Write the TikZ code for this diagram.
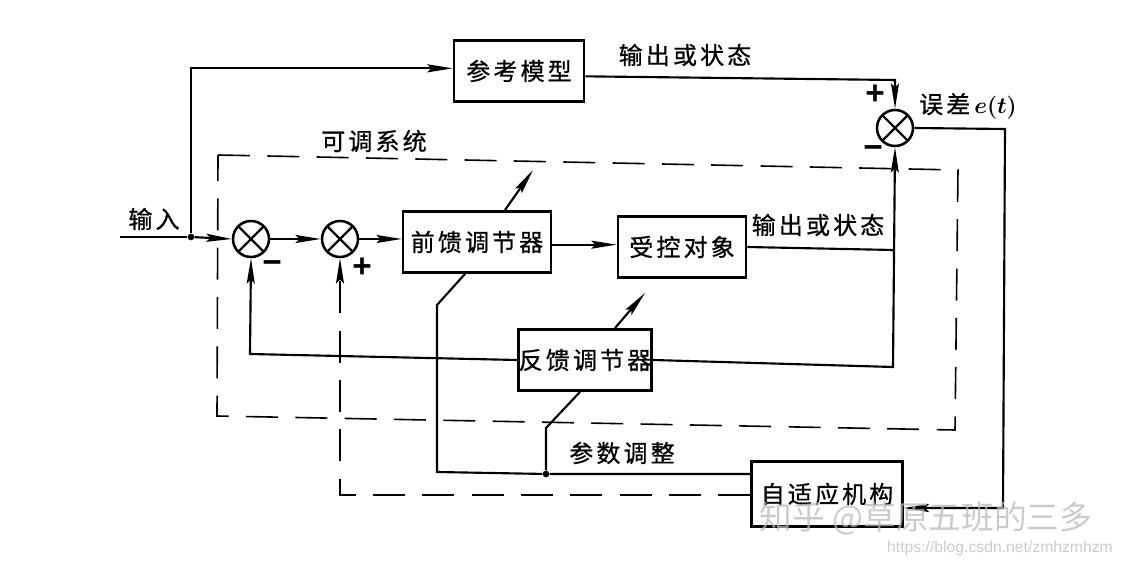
\documentclass[tikz,border=0pt]{standalone}
\usepackage{fontspec}
\usepackage{amsmath}
\setsansfont{Liberation Sans}
\newfontfamily\cjk[LetterSpace=13,FakeBold=0.7]{Noto Sans CJK SC}
\newfontfamily\markfont{Noto Sans CJK SC}
\usetikzlibrary{arrows.meta, positioning}
\tikzset{
    >={Stealth[length=19pt,width=6pt,inset=3pt]},
    every node/.style={font=\cjk\fontsize{18}{20}\selectfont, inner sep=0pt},
    wire/.style={line width=1.6pt},
    block/.style={draw, line width=1.9pt, minimum width=#1, minimum height=46pt},
    sum/.style={draw, circle, line width=1.9pt, minimum size=27pt,
        path picture={\draw[line width=1.6pt, shift={(path picture bounding box.center)}, rotate=#1]
            (-14pt,-14pt) -- (14pt,14pt) (-14pt,14pt) -- (14pt,-14pt);}},
    sum/.default=0,
    junc/.style={circle, fill, minimum size=5pt},
    sign/.style={font=\sffamily\bfseries\fontsize{25}{25}\selectfont},
    bound/.style={line width=1.2pt, dash pattern=on 24pt off 13pt},
    stamp/.style={text=gray!55, opacity=.75, font=\markfont\fontsize{24.5}{28}\selectfont}
}

\begin{document}
\begin{tikzpicture}[x=0.75pt, y=-0.75pt, node distance=66.75pt]
    \useasboundingbox (0,0) rectangle (1122,566);
    % blocks
    \node[block=97.5pt] (model) at (519,71) {参考模型};
    \node[block=111pt] (ffwd) at (477,242) {前馈调节器};
    \node[block=96pt] (plant) at (682,247) {受控对象};
    \node[block=100pt] (fback) at (585,360) {反馈调节器};
    \node[block=113pt, minimum height=49pt] (adapt) at (827,494) {自适应机构};
    % summing points
    \node[sum=13] (sum1) at (251,239) {};
    \node[sum=13, right of=sum1] (sum2) {};
    \node[sum] (sumE) at (895,128) {};
    % free ends and corners
    \coordinate (input) at (120,237);
    \node[junc] (inTap) at (191,237) {};
    \coordinate (topR) at (895,80);
    \coordinate (tapR) at (893,367);
    \node[coordinate] (plantTap) at (893,250) {};
    \coordinate (errR) at (1005,129);
    \coordinate (errB) at (1003,508);
    \coordinate (fbL) at (250,354);
    \coordinate (dashL) at (340,495);
    \coordinate (ffTipA) at (533,170);
    \coordinate (fbTipA) at (645,293);
    \coordinate (ffBendA) at (437,305);
    \coordinate (ffBendB) at (437,472);
    \node[junc] (tune) at (546,474) {};
    \coordinate (fbBend) at (546,428);
    % adjustable system frame
    \coordinate (frameA) at (218,155);
    \coordinate (frameB) at (958,170);
    \coordinate (frameC) at (955,430);
    \coordinate (frameD) at (217,416);
    \draw[bound] (frameA) -- (frameB) -- (frameC) -- (frameD) -- cycle;
    % signals
    \draw[wire] (input) -- (inTap);
    \draw[wire,->] (inTap) -- (sum1.west);
    \draw[wire,->] (inTap) |- ([yshift=2pt]model.west);
    \draw[wire,->] (sum1) -- (sum2);
    \draw[wire,->] (sum2) -- (sum2 -| ffwd.west);
    \draw[wire,->] ([yshift=-2pt]ffwd.east) -- ([yshift=-2pt]ffwd.east -| plant.west);
    \draw[wire,->] ([yshift=-4pt]model.east) -- (topR) -- (sumE.north);
    \draw[wire,->] (fback.east) -- (tapR) -- (sumE.south);
    \draw[wire] (plant.east) -- (plantTap);
    \draw[wire,->] (sumE.east) -- (errR) -- (errB) -- (errB -| adapt.east);
    \draw[wire,->] (fback.west) -- (fbL) -- (sum1.south);
    \draw[wire,bound,line width=1.3pt,->] (adapt.west |- dashL) -- (dashL) -- (sum2.south);
    \draw[wire,->] (ffwd.north) ++(28,0) coordinate (ffTop) -- (ffTipA);
    \draw[wire,->] (fback.north) ++(30,0) coordinate (fbTop) -- (fbTipA);
    \draw[wire] (ffwd.south) ++(-12,0) coordinate (ffBot) -- (ffBendA) -- (ffBendB) -- (tune) -- (tune -| adapt.west);
    \draw[wire] (fback.south) ++(-5,0) coordinate (fbBot) -- (fbBend) -- (tune);
    % labels
    \node (outTop) at (685,55) {输出或状态};
    \node (outIn) at (818,225) {输出或状态};
    \node (err) at (968,106) {误差\,{\boldmath$e(t)$}};
    \node (adj) at (374,141) {可调系统};
    \node (inLab) at (154,219) {输入};
    \node (param) at (622,453) {参数调整};
    \node[sign] (plusE) at (875,95) {+};
    \node[sign] (minusE) at (873,152) {\textminus};
    \node[sign] (minus1) at (272,267) {\textminus};
    \node[sign] (plus2) at (362,268) {+};
    % watermark
    \node[stamp] (stampA) at (926,519) {知乎\ @草原五班的三多};
    \node[text=gray!40, font=\sffamily\fontsize{11.8}{13}\selectfont] (stampB) at (1000,548) {https://blog.csdn.net/zmhzmhzm};
\end{tikzpicture}
\end{document}
